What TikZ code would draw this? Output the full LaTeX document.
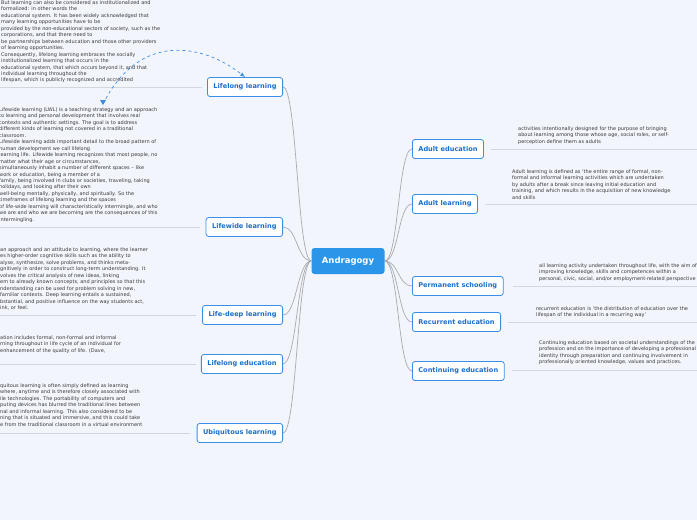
\documentclass[tikz,border=0pt]{standalone}
\usepackage{fontspec}
\setmainfont{DejaVu Sans}
\usetikzlibrary{calc}
\begin{document}
\begin{tikzpicture}[x=1pt,y=-1pt,
  branch/.style={draw=bord,line width=0.8pt,fill=white,rounded corners=2.5pt,text=btext,font=\fontsize{6.6}{8}\selectfont\bfseries,minimum height=19pt,inner xsep=6pt},
  desc/.style={anchor=north west,inner sep=0pt,align=left,text=dtext,font=\fontsize{5}{6.45}\selectfont},
  uline/.style={draw=lgrey,line width=0.6pt},
  conn/.style={draw=cgrey,line width=0.7pt},
  ]
\definecolor{bg}{HTML}{F3F5FC}
\definecolor{bord}{HTML}{3A8EE6}
\definecolor{btext}{HTML}{1A6FCC}
\definecolor{dtext}{HTML}{3A3A3A}
\definecolor{lgrey}{HTML}{D4D6DE}
\definecolor{cgrey}{HTML}{A8AAB0}
\definecolor{cblue}{HTML}{2B95E9}
\fill[bg] (0,0) rectangle (697,520);
\useasboundingbox (0,0) rectangle (697,520);

% underlines
\draw[uline] (0,87) -- (202,87);
\draw[uline] (0,227) -- (200,227);
\draw[uline] (0,315) -- (196,315);
\draw[uline] (0,364) -- (196,364);
\draw[uline] (0,433) -- (190,433);
\draw[uline] (491,149) -- (697,149);
\draw[uline] (485,204) -- (697,204);
\draw[uline] (513,286) -- (697,286);
\draw[uline] (508,322) -- (697,322);
\draw[uline] (512,370) -- (697,370);

\node[fill=cblue,rounded corners=3pt,text=white,font=\fontsize{8.5}{10}\selectfont\bfseries,minimum width=73pt,minimum height=26pt] (c) at (348,261) {Andragogy};

\node[branch,anchor=east] (l1) at (283,87) {Lifelong learning};
\node[branch,anchor=east] (l2) at (283,227) {Lifewide learning};
\node[branch,anchor=east] (l3) at (283,315) {Life-deep learning};
\node[branch,anchor=east] (l4) at (283,364) {Lifelong education};
\node[branch,anchor=east] (l5) at (283,433) {Ubiquitous learning};
\node[branch,anchor=west] (r1) at (412,149) {Adult education};
\node[branch,anchor=west] (r2) at (412,204) {Adult learning};
\node[branch,anchor=west] (r3) at (412,286) {Permanent schooling};
\node[branch,anchor=west] (r4) at (412,322) {Recurrent education};
\node[branch,anchor=west] (r5) at (412,371) {Continuing education};

\foreach \n in {l1,l2,l3,l4,l5}{
  \draw[conn] (c.west) .. controls ($(c.west)+(-14,0)$) and ($(\n.east)+(14,0)$) .. (\n.east);}
\foreach \n in {r1,r2,r3,r4,r5}{
  \draw[conn] (c.east) .. controls ($(c.east)+(14,0)$) and ($(\n.west)+(-14,0)$) .. (\n.west);}

\coordinate (dend) at (103,104);
\draw[bord,dashed,line width=0.7pt,-latex] (dend) .. controls (140,30) and (205,45) .. (l1.north);
\fill[bord] (100,100) -- (106,100) -- (103,105) -- cycle;

\node[desc] (t1) at (1,0.5) {But learning can also be considered as institutionalized and\\formalized: in other words the\\educational system. It has been widely acknowledged that\\many learning opportunities have to be\\provided by the non-educational sectors of society, such as the\\corporations, and that there need to\\be partnerships between education and those other providers\\of learning opportunities.\\Consequently, lifelong learning embraces the socially\\institutionalized learning that occurs in the\\educational system, that which occurs beyond it, and that\\individual learning throughout the\\lifespan, which is publicly recognized and accredited};

\node[desc] (t2) at (-1,107.5) {Lifewide learning (LWL) is a teaching strategy and an approach\\to learning and personal development that involves real\\contexts and authentic settings. The goal is to address\\different kinds of learning not covered in a traditional\\classroom.\\Lifewide learning adds important detail to the broad pattern of\\human development we call lifelong\\learning life. Lifewide learning recognizes that most people, no\\matter what their age or circumstances,\\simultaneously inhabit a number of different spaces -- like\\work or education, being a member of a\\family, being involved in clubs or societies, traveling, taking\\holidays, and looking after their own\\well-being mentally, physically, and spiritually. So the\\timeframes of lifelong learning and the spaces\\of life-wide learning will characteristically intermingle, and who\\we are and who we are becoming are the consequences of this\\intermingling.};

\node[desc] (t3) at (0,247.5) {an approach and an attitude to learning, where the learner\\es higher-order cognitive skills such as the ability to\\alyse, synthesize, solve problems, and thinks meta-\\gnitively in order to construct long-term understanding. It\\volves the critical analysis of new ideas, linking\\em to already known concepts, and principles so that this\\nderstanding can be used for problem solving in new,\\familiar contexts. Deep learning entails a sustained,\\bstantial, and positive influence on the way students act,\\ink, or feel.};

\node[desc] (t4) at (0,335.5) {ation includes formal, non-formal and informal\\rning throughout in life cycle of an individual for\\enhancement of the quality of life. (Dave,};

\node[desc] (t5) at (0,383.5) {quitous learning is often simply defined as learning\\where, anytime and is therefore closely associated with\\ile technologies. The portability of computers and\\puting devices has blurred the traditional lines between\\nal and informal learning. This also considered to be\\ning that is situated and immersive, and this could take\\e from the traditional classroom in a virtual environment};

\node[desc] (t6) at (518,126.5) {activities intentionally designed for the purpose of bringing\\about learning among those whose age, social roles, or self-\\perception define them as adults};
\node[desc] (t7) at (512,169.5) {Adult learning is defined as `the entire range of formal, non-\\formal and informal learning activities which are undertaken\\by adults after a break since leaving initial education and\\training, and which results in the acquisition of new knowledge\\and skills};
\node[desc] (t8) at (539,263.5) {all learning activity undertaken throughout life, with the aim of\\improving knowledge, skills and competences within a\\personal, civic, social, and/or employment-related perspective};
\node[desc] (t9) at (536,306.5) {recurrent education is `the distribution of education over the\\lifespan of the individual in a recurring way'};
\node[desc] (t10) at (539,340.5) {Continuing education based on societal understandings of the\\profession and on the importance of developing a professional\\identity through preparation and continuing involvement in\\professionally oriented knowledge, values and practices.};
\end{tikzpicture}
\end{document}
